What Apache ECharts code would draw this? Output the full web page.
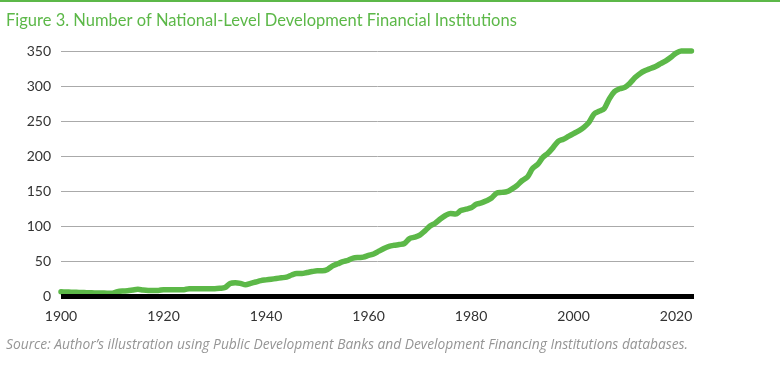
<!DOCTYPE html>
<html>
<head>
<meta charset="utf-8">
<script src="https://cdn.jsdelivr.net/npm/echarts@6/dist/echarts.min.js"></script>
<style>
html,body{margin:0;padding:0;background:#fff;}
#topline{position:absolute;left:0;top:0;width:780px;height:2px;background:#5cb848;}
#chart{width:780px;height:379px;}
</style>
</head>
<body>
<div id="topline"></div>
<div id="chart"></div>
<script>
const title = "Figure 3. Number of National-Level Development Financial Institutions";
const source = "Source: Author\u2019s illustration using Public Development Banks and Development Financing Institutions databases.";
const years = [];
for (let y = 1900; y <= 2023; y++) years.push(y);
const counts = [
  6, 5.8, 5.5, 5.2, 5, 4.8, 4.5, 4.3, 4.2, 4,
  4, 6, 7, 7.5, 8.5, 9.5, 8.5, 8, 8, 8,
  9, 9, 9, 9, 9, 10.5, 10.5, 10.5, 10.5, 10.5,
  10.5, 11, 12, 18, 19, 18, 16, 18, 20, 22,
  23, 24, 25, 26, 27, 30, 32, 32, 33.5, 35,
  36, 36, 38, 43, 46, 49, 51, 54, 55, 55.5,
  58, 60, 64, 68, 71, 72.5, 73.5, 75, 82, 84,
  87, 93, 100, 104, 110, 115, 118, 117, 122, 124,
  126, 131, 133, 136, 140, 147, 148, 149, 153, 158,
  165, 170, 182, 188, 198, 204, 212, 221, 224, 228,
  232, 236, 241, 248, 260, 264, 268, 282, 292, 296,
  298, 304, 312, 318, 322, 325, 328, 332, 336, 341,
  347, 350, 350, 350
];
const xTicks = [1900, 1920, 1940, 1960, 1980, 2000, 2020];
const yTicks = [0, 50, 100, 150, 200, 250, 300, 350];

const chart = echarts.init(document.getElementById('chart'));
const font = 'Lato, "Noto Sans", sans-serif';
chart.setOption({
  animation: false,
  textStyle: {fontFamily: font},
  title: [{
    text: title, left: 1, top: 7,
    textStyle: {color: '#5cb848', fontSize: 16.5, fontWeight: 'normal', fontFamily: font}
  }, {
    text: source, left: 1, top: 333,
    textStyle: {color: '#959595', fontSize: 13.8, fontStyle: 'italic', fontWeight: 'normal', fontFamily: '"Open Sans", sans-serif'}
  }],
  grid: {left: 61, right: 86, top: 51, bottom: 83, containLabel: false},
  xAxis: {
    type: 'value', min: 1900, max: 2023.5, interval: 20, z: 5,
    axisLine: {show: true, onZero: true, lineStyle: {color: '#000', width: 5, cap: 'butt'}},
    axisTick: {show: false},
    splitLine: {show: false},
    axisLabel: {
      color: '#333', fontSize: 14, margin: 13, showMaxLabel: false,
      formatter: v => xTicks.includes(v) ? String(v) : ''
    }
  },
  yAxis: {
    type: 'value', min: 0, max: 350, interval: 50,
    axisLine: {show: false}, axisTick: {show: false},
    splitLine: {lineStyle: {color: '#aaaaaa', width: 1}},
    axisLabel: {color: '#333', fontSize: 14, margin: 10,
      formatter: v => yTicks.includes(v) ? String(v) : ''}
  },
  series: [{
    type: 'line',
    data: years.map((y, i) => [y, counts[i]]),
    showSymbol: false, smooth: 0.3, clip: false,
    lineStyle: {color: '#5cb848', width: 5.5, cap: 'round', join: 'round'}
  }]
});
</script>
</body>
</html>
